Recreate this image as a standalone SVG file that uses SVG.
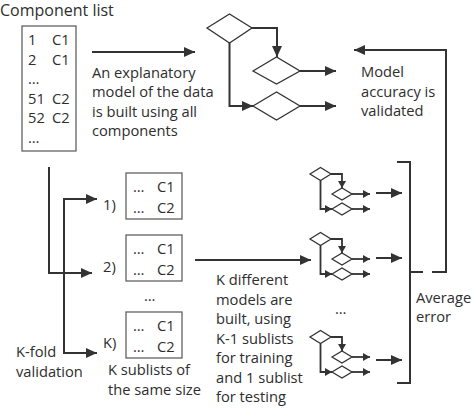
<svg xmlns="http://www.w3.org/2000/svg" width="474" height="414" viewBox="0 0 474 414">
<defs>
<style>
text{font-family:"Open Sans","Liberation Sans",sans-serif;font-size:14.7px;fill:#2e2e2e}
.box{fill:#fff;stroke:#555;stroke-width:1.2}
.dia{fill:#fff;stroke:#333;stroke-width:1.3}
.ln{fill:none;stroke:#333;stroke-width:2}
.sl{fill:none;stroke:#333;stroke-width:1.8}
.big{marker-end:url(#ah)}
.sm{marker-end:url(#as)}
</style>
<marker id="ah" markerUnits="userSpaceOnUse" markerWidth="12" markerHeight="10" refX="11" refY="5" orient="auto"><path d="M0,0 L11,5 L0,10 z" fill="#333"/></marker>
<marker id="as" markerUnits="userSpaceOnUse" markerWidth="8" markerHeight="8" refX="7" refY="4" orient="auto"><path d="M0,0 L7,4 L0,8 z" fill="#333"/></marker>
<g id="cluster">
<polygon class="dia" points="310,174 320.5,167.5 331,174 320.5,180.5"/>
<polygon class="dia" points="332,194 342,188 352,194 342,200"/>
<polygon class="dia" points="332,209 342,203 352,209 342,215"/>
<path class="sl sm" d="M331,174 H342 V188"/>
<path class="sl sm" d="M320.5,180.5 V209 H332"/>
<path class="sl sm" d="M352,194 H370"/>
<path class="sl sm" d="M352,209 H370"/>
</g>
</defs>

<text x="0" y="16" style="font-size:16px">Component list</text>

<g id="component-list">
<rect class="box" x="22" y="26" width="54" height="125"/>
<text x="28" y="45">1</text><text x="52" y="45">C1</text>
<text x="28" y="65">2</text><text x="52" y="65">C1</text>
<text x="28" y="84">…</text>
<text x="28" y="104">51</text><text x="52" y="104">C2</text>
<text x="28" y="123">52</text><text x="52" y="123">C2</text>
<text x="28" y="143">…</text>
</g>

<g id="explanatory-text">
<text x="92" y="78">An explanatory</text>
<text x="92" y="97">model of the data</text>
<text x="92" y="117">is built using all</text>
<text x="92" y="136">components</text>
</g>

<g id="model-top">
<polygon class="dia" points="207,28 229.5,14 252,28 229.5,43"/>
<polygon class="dia" points="253,71 276.5,57 300,71 276.5,84"/>
<polygon class="dia" points="253,106 276.5,92 300,106 276.5,120"/>
</g>

<g id="accuracy-text">
<text x="361" y="77">Model</text>
<text x="361" y="97">accuracy is</text>
<text x="361" y="116">validated</text>
</g>

<g id="sublist-1">
<text x="103" y="210">1)</text>
<rect class="box" x="126" y="173" width="56" height="46"/>
<text x="133" y="192">…</text><text x="157" y="192">C1</text>
<text x="133" y="213">…</text><text x="157" y="213">C2</text>
</g>
<g id="sublist-2">
<text x="103" y="272">2)</text>
<rect class="box" x="126" y="235" width="56" height="46"/>
<text x="133" y="254">…</text><text x="157" y="254">C1</text>
<text x="133" y="275">…</text><text x="157" y="275">C2</text>
</g>
<text x="144" y="301">…</text>
<g id="sublist-k">
<text x="103" y="348">K)</text>
<rect class="box" x="126" y="312" width="56" height="46"/>
<text x="133" y="331">…</text><text x="157" y="331">C1</text>
<text x="133" y="352">…</text><text x="157" y="352">C2</text>
</g>

<g id="kfold-text">
<text x="16" y="357">K-fold</text>
<text x="16" y="377">validation</text>
</g>
<g id="sublists-text">
<text x="108" y="375">K sublists of</text>
<text x="108" y="395">the same size</text>
</g>

<g id="kmodels-text">
<text x="216" y="285">K different</text>
<text x="216" y="305">models are</text>
<text x="216" y="324">built, using</text>
<text x="216" y="344">K-1 sublists</text>
<text x="216" y="363">for training</text>
<text x="216" y="383">and 1 sublist</text>
<text x="216" y="402">for testing</text>
</g>

<g id="model-1"><use href="#cluster"/></g>
<g id="model-2"><use href="#cluster" transform="translate(0,65)"/></g>
<text x="335" y="314">…</text>
<g id="model-k"><use href="#cluster" transform="translate(0,163)"/></g>

<g id="average-text">
<text x="416" y="303">Average</text>
<text x="416" y="322">error</text>
</g>

<g id="connectors">
<path class="ln big" d="M92,52 H195"/>
<path class="ln big" d="M252,28 H277 V57"/>
<path class="ln big" d="M229.5,43 V106 H253"/>
<path class="ln big" d="M300,71 H336"/>
<path class="ln big" d="M300,106 H336"/>
<path class="ln big" d="M432,272 H446 V50 H354"/>
<path class="ln" d="M410,272 H423"/>
<path class="ln" d="M397,162 H410 V383 H397"/>
<path class="ln big" d="M49,167 V273 H92"/>
<path class="ln big" d="M64,276 V199 H97"/>
<path class="ln big" d="M64,276 V353 H97"/>
<path class="ln big" d="M195,260 H311"/>
<path class="ln big" d="M376,193 H402"/>
<path class="ln big" d="M376,258 H402"/>
<path class="ln big" d="M376,360 H402"/>
</g>
</svg>
